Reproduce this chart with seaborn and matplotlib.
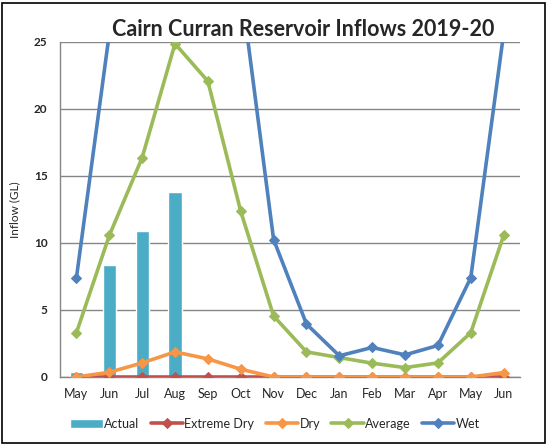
import numpy as np
import pandas as pd
import matplotlib
matplotlib.use("Agg")
import matplotlib.pyplot as plt
from matplotlib.patches import Rectangle
import seaborn as sns

months = ["May", "Jun", "Jul", "Aug", "Sep", "Oct", "Nov", "Dec",
          "Jan", "Feb", "Mar", "Apr", "May", "Jun"]
actual = [0.4, 8.35, 10.9, 13.8]
extreme_dry = [0, 0, 0, 0, 0, 0, 0, 0, 0, 0, 0, 0, 0, 0]
dry = [0, 0.35, 1.05, 1.87, 1.35, 0.58, 0, 0, 0, 0, 0, 0, 0, 0.33]
average = [3.3, 10.55, 16.35, 24.85, 22.05, 12.35, 4.55, 1.87, 1.45, 1.03, 0.7, 1.05, 3.3, 10.55]
wet = [7.4, 25.6, 45.0, 60.0, 50.0, 29.2, 10.25, 3.95, 1.58, 2.2, 1.65, 2.35, 7.4, 25.6]

series = [("Extreme Dry", extreme_dry, "#C0504D"),
          ("Dry", dry, "#F79646"),
          ("Average", average, "#9BBB59"),
          ("Wet", wet, "#4F81BD")]

sns.set_style("white")
plt.rcParams['font.family'] = ['Lato', 'DejaVu Sans']

fig = plt.figure(figsize=(5.48, 4.48), dpi=100)
ax = fig.add_axes([0.1095, 0.1585, 0.8395, 0.7485])

idx = np.arange(len(months))
sns.barplot(x=idx[:len(actual)], y=actual, native_scale=True, width=0.4,
            color="#4BACC6", saturation=1, ax=ax, label="Actual", zorder=2)

for name, vals, col in series:
    sns.lineplot(x=idx, y=vals, ax=ax, color=col, lw=2.6, marker="D",
                 markersize=5.5, markeredgecolor=col, label=name, zorder=3)

ax.set_xlim(-0.5, len(months) - 0.5)
ax.set_ylim(0, 25)
ax.set_yticks([0, 5, 10, 15, 20, 25])
ax.set_xticks(idx)
ax.set_xticklabels(months, fontsize=9)
for t in ax.get_yticklabels():
    t.set_fontweight("bold")
    t.set_fontsize(8.5)
ax.tick_params(axis="y", length=3, color="#868686", pad=6)
ax.tick_params(axis="x", length=0, pad=8)
ax.yaxis.grid(True, color="#868686", lw=1)
ax.set_axisbelow(True)
for s in ["top", "right"]:
    ax.spines[s].set_visible(False)
for s in ["left", "bottom"]:
    ax.spines[s].set_color("#868686")
    ax.spines[s].set_linewidth(1)
ax.set_ylabel("Inflow (GL)", fontsize=8.5, labelpad=10)
ax.set_xlabel("")

fig.text(0.553, 0.935, "Cairn Curran Reservoir Inflows 2019-20",
         ha="center", va="center", fontsize=15.5, fontweight="bold")

handles, labels = ax.get_legend_handles_labels()
order = ["Actual", "Extreme Dry", "Dry", "Average", "Wet"]
hmap = dict(zip(labels, handles))
ax.legend([hmap[k] for k in order], order, loc="center", bbox_to_anchor=(0.502, 0.054),
          bbox_transform=fig.transFigure, ncol=5, frameon=False, fontsize=9,
          handlelength=2.6, columnspacing=0.9, handletextpad=0.1)

fig.patches.append(Rectangle((0.004, 0.011), 0.991, 0.983, transform=fig.transFigure,
                             fill=False, edgecolor="black", lw=1.2))

fig.savefig("out.png", dpi=100)
